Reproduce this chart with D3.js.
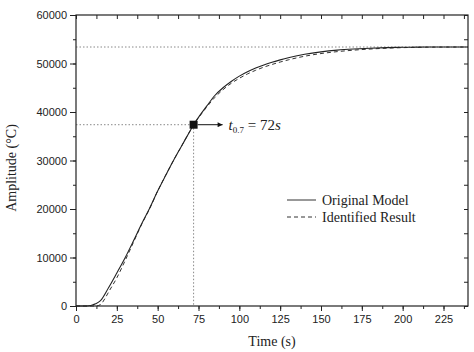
<!DOCTYPE html>
<html lang="en">
<head>
  <meta charset="UTF-8"/>
  <title>Step response</title>
  <script src="https://d3js.org/d3.v7.min.js"></script>
  <style>
    body { margin: 0; background: #fff; }
    .tick text { font-family: "Liberation Sans", Arial, sans-serif; font-size: 11px; fill: #222; }
  </style>
</head>
<body>
<script>
  var w = 474;
  var h = 352;
  var margin = {top: 15, right: 6, bottom: 46, left: 76};

  // Original model (solid)
  var origTime = [0, 5, 8, 10, 12, 15, 20, 25, 30, 35, 40, 45, 50, 55, 60, 65, 70, 72, 75, 80, 85, 90, 95, 100, 105, 110, 115, 120, 125, 130, 140, 150, 160, 170, 180, 190, 200, 210, 220, 240];
  var origAmp = [0, 0, 60, 200, 450, 1100, 3800, 6800, 9900, 13300, 16800, 20100, 23700, 27000, 30200, 33200, 36200, 37380, 38900, 41200, 43400, 45000, 46300, 47400, 48300, 49050, 49700, 50250, 50750, 51200, 51900, 52400, 52750, 52980, 53150, 53270, 53340, 53380, 53400, 53400];

  // Identified result (dashed)
  var identTime = [0, 12, 15, 18, 20, 25, 30, 35, 40, 45, 50, 55, 60, 65, 70, 72, 75, 80, 85, 90, 95, 100, 105, 110, 115, 120, 125, 130, 140, 150, 160, 170, 180, 190, 200, 210, 220, 240];
  var identAmp = [0, 0, 300, 1700, 2900, 5800, 9300, 13000, 16700, 20000, 23700, 27000, 30200, 33200, 36200, 37380, 38800, 41000, 43000, 44600, 45900, 46950, 47850, 48600, 49250, 49800, 50300, 50750, 51500, 52050, 52450, 52750, 52980, 53150, 53270, 53340, 53380, 53400];

  var xTicks = [0, 25, 50, 75, 100, 125, 150, 175, 200, 225];
  var yTicks = [0, 10000, 20000, 30000, 40000, 50000, 60000];
  var steadyValue = 53400;
  var t07 = 72;
  var y07 = 37380;
  var legendNames = ["Original Model", "Identified Result"];

  var xScale = d3.scaleLinear().domain([0, 240]).range([margin.left, w - margin.right]);
  var yScale = d3.scaleLinear().domain([0, 60000]).range([h - margin.bottom, margin.top]);

  var svg = d3.select("body").append("svg")
          .attr("width", w)
          .attr("height", h);

  var x0 = xScale(0), x1 = xScale(240), y0 = yScale(0), y1 = yScale(60000);

  // reference dotted lines
  svg.append("line")
          .attr("x1", x0).attr("x2", x1)
          .attr("y1", yScale(steadyValue)).attr("y2", yScale(steadyValue))
          .attr("stroke", "#888").attr("stroke-dasharray", "1.5,2");
  svg.append("line")
          .attr("x1", x0).attr("x2", xScale(t07))
          .attr("y1", yScale(y07)).attr("y2", yScale(y07))
          .attr("stroke", "#888").attr("stroke-dasharray", "1.5,2");
  svg.append("line")
          .attr("x1", xScale(t07)).attr("x2", xScale(t07))
          .attr("y1", yScale(y07)).attr("y2", y0)
          .attr("stroke", "#888").attr("stroke-dasharray", "1.5,2");

  // curves
  var line = d3.line()
          .x(function(d) { return xScale(d[0]); })
          .y(function(d) { return yScale(d[1]); })
          .curve(d3.curveMonotoneX);

  svg.append("path")
          .datum(d3.zip(identTime, identAmp))
          .attr("d", line)
          .attr("fill", "none")
          .attr("stroke", "#333")
          .attr("stroke-width", 1)
          .attr("stroke-dasharray", "4,3");

  svg.append("path")
          .datum(d3.zip(origTime, origAmp))
          .attr("d", line)
          .attr("fill", "none")
          .attr("stroke", "#222")
          .attr("stroke-width", 1.1);

  // axes
  var xMinor = d3.range(0, 240.1, 12.5);
  var yMinor = d3.range(0, 60001, 5000);

  var xAxis = d3.axisBottom(xScale).tickValues(xTicks).tickSize(5).tickPadding(4);
  var gx = svg.append("g").attr("transform", "translate(0," + y0 + ")").call(xAxis);
  gx.select(".domain").remove();
  svg.append("g").attr("transform", "translate(0," + y0 + ")")
          .call(d3.axisBottom(xScale).tickValues(xMinor).tickSize(3).tickFormat(""))
          .select(".domain").remove();

  var yAxis = d3.axisLeft(yScale).tickValues(yTicks).tickSize(6).tickPadding(3).tickFormat(d3.format("d"));
  var gy = svg.append("g").attr("transform", "translate(" + x0 + ",0)").call(yAxis);
  gy.select(".domain").remove();
  svg.append("g").attr("transform", "translate(" + x0 + ",0)")
          .call(d3.axisLeft(yScale).tickValues(yMinor).tickSize(3).tickFormat(""))
          .select(".domain").remove();

  // top and right ticks point inward
  svg.append("g").attr("transform", "translate(0," + y1 + ")")
          .call(d3.axisBottom(xScale).tickValues(xMinor).tickSize(4).tickFormat(""))
          .select(".domain").remove();
  svg.append("g").attr("transform", "translate(" + x1 + ",0)")
          .call(d3.axisLeft(yScale).tickValues(yMinor).tickSize(4).tickFormat(""))
          .select(".domain").remove();

  svg.selectAll(".tick line").attr("stroke", "#222");

  // frame
  svg.append("rect")
          .attr("x", x0).attr("y", y1)
          .attr("width", x1 - x0).attr("height", y0 - y1)
          .attr("fill", "none")
          .attr("stroke", "#222")
          .attr("stroke-width", 1.2);

  // t0.7 marker
  svg.append("rect")
          .attr("x", xScale(t07) - 4).attr("y", yScale(y07) - 4)
          .attr("width", 8).attr("height", 8)
          .attr("fill", "#111");

  svg.append("defs").append("marker")
          .attr("id", "arrow")
          .attr("viewBox", "0 0 10 10")
          .attr("refX", 10).attr("refY", 5)
          .attr("markerWidth", 7).attr("markerHeight", 5)
          .attr("markerUnits", "userSpaceOnUse")
          .attr("orient", "auto")
          .append("path")
          .attr("d", "M0,0L10,5L0,10Z")
          .attr("fill", "#111");

  svg.append("line")
          .attr("x1", xScale(t07) + 4).attr("x2", xScale(t07) + 29)
          .attr("y1", yScale(y07)).attr("y2", yScale(y07))
          .attr("stroke", "#111")
          .attr("marker-end", "url(#arrow)");

  var ann = svg.append("text")
          .attr("x", xScale(t07) + 35)
          .attr("y", yScale(y07) + 5)
          .attr("font-family", "Liberation Serif, Times New Roman, serif")
          .attr("font-size", 15)
          .attr("fill", "#222");
  ann.append("tspan").attr("font-style", "italic").text("t");
  ann.append("tspan").attr("font-size", 9).attr("dy", 3).text("0.7");
  ann.append("tspan").attr("dy", -3).text(" = " + t07);
  ann.append("tspan").attr("font-style", "italic").text("s");

  // legend
  var legend = svg.append("g").attr("transform", "translate(287,200)");
  legendNames.forEach(function(name, i) {
    legend.append("line")
            .attr("x1", 0).attr("x2", 29)
            .attr("y1", i * 17).attr("y2", i * 17)
            .attr("stroke", "#333")
            .attr("stroke-dasharray", i === 1 ? "4,3" : null);
    legend.append("text")
            .attr("x", 35).attr("y", i * 17 + 4.5)
            .attr("font-family", "Liberation Serif, Times New Roman, serif")
            .attr("font-size", 14)
            .attr("fill", "#222")
            .text(name);
  });

  // axis labels
  svg.append("text")
          .attr("text-anchor", "middle")
          .attr("x", (x0 + x1) / 2)
          .attr("y", h - 6)
          .attr("font-family", "Liberation Serif, Times New Roman, serif")
          .attr("font-size", 14)
          .attr("fill", "#222")
          .text("Time (s)");

  svg.append("text")
          .attr("text-anchor", "middle")
          .attr("transform", "rotate(-90)")
          .attr("x", -168)
          .attr("y", 16)
          .attr("font-family", "Liberation Serif, Times New Roman, serif")
          .attr("font-size", 14)
          .attr("fill", "#222")
          .text("Amplitude (°C)");
</script>
</body>
</html>
